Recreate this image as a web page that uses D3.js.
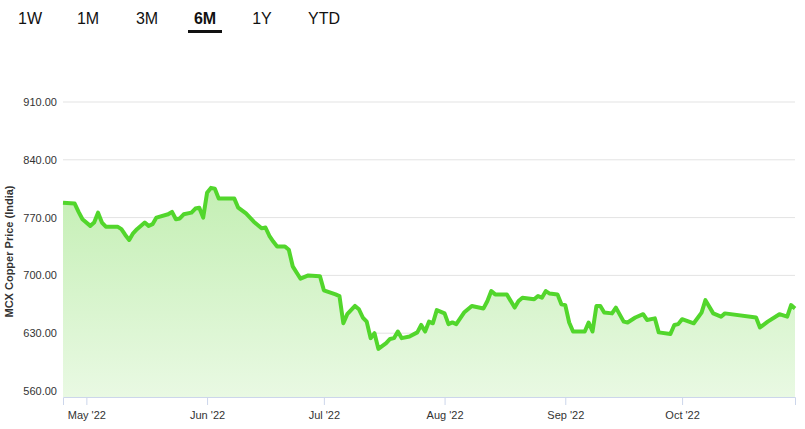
<!DOCTYPE html>
<html>
<head>
<meta charset="utf-8">
<script src="https://cdn.jsdelivr.net/npm/d3@7"></script>
<style>
  body { margin: 0; background: #fff; font-family: "Liberation Sans", Arial, sans-serif; }
</style>
</head>
<body>
<div id="chart"></div>
<script>
'use strict';

// Range selector tabs
const tabs = ['1W', '1M', '3M', '6M', '1Y', 'YTD'];
const activeTab = '6M';

// Day offsets from 1 May 2022 and MCX copper prices
const dayOffsets = [-6, -3, -2, -1, 1, 2, 3, 4, 5, 8, 9, 10, 11, 12, 13, 15, 16, 17, 18,
  21, 22, 23, 24, 25, 27, 28, 29, 30, 31, 32, 33, 34, 36, 38, 39, 41, 43, 45, 46, 47,
  48, 49, 51, 52, 53, 55, 57, 60, 61, 64, 65, 66, 67, 69, 70, 71, 72, 73, 74, 75, 77,
  78, 79, 80, 81, 83, 85, 86, 87, 88, 89, 90, 92, 93, 94, 95, 97, 99, 102, 103, 104,
  105, 108, 110, 111, 112, 115, 116, 117, 118, 119, 121, 122, 123, 124, 125, 128, 129,
  130, 131, 132, 133, 135, 136, 138, 139, 141, 143, 144, 146, 147, 150, 151, 152, 153,
  156, 158, 159, 161, 163, 164, 172, 173, 175, 178, 180, 181, 182];
const prices = [788, 787, 777, 768, 760, 764, 776, 764, 759, 759, 756, 749, 743, 751, 756,
  764, 760, 762, 770, 774, 777, 768, 769, 774, 776, 781, 782, 770, 800, 806, 805, 793,
  793, 793, 782, 775, 765, 757, 758, 748, 741, 735, 735, 731, 711, 696, 700, 699, 682,
  677, 675, 642, 653, 663, 659, 649, 644, 624, 630, 611, 618, 623, 624, 632, 624, 626,
  631, 640, 632, 644, 642, 658, 654, 641, 643, 641, 655, 663, 660, 669, 681, 677, 677,
  661, 669, 673, 671, 675, 673, 681, 678, 677, 665, 664, 643, 632, 632, 643, 632, 663,
  663, 655, 654, 661, 644, 643, 649, 653, 646, 648, 631, 629, 640, 641, 647, 642, 655,
  670, 654, 650, 654, 649, 637, 644, 653, 650, 664, 660];

const yTicks = [560, 630, 700, 770, 840, 910];
const xTickDates = [new Date(2022, 4, 1), new Date(2022, 5, 1), new Date(2022, 6, 1),
  new Date(2022, 7, 1), new Date(2022, 8, 1), new Date(2022, 9, 1)];
const yTitle = 'MCX Copper Price (India)';

const chartWidth = 805, chartHeight = 429;
const plotLeft = 63, plotRight = 795, plotTop = 102, plotBottom = 397;

const data = dayOffsets.map((d, i) => ({date: new Date(2022, 4, 1 + d), value: prices[i]}));

const svg = d3.select('#chart').append('svg')
  .attr('width', chartWidth).attr('height', chartHeight);

const x = d3.scaleTime()
  .domain([data[0].date, data[data.length - 1].date])
  .range([plotLeft, plotRight]);
const y = d3.scaleLinear().domain([560, 910]).range([391, plotTop]);

// Tabs
const tabX = [30, 88, 147, 205, 262, 324];
tabs.forEach((t, i) => {
  svg.append('text')
    .attr('x', tabX[i]).attr('y', 24)
    .attr('text-anchor', 'middle')
    .attr('font-size', '16px')
    .attr('font-weight', t === activeTab ? 'bold' : 'normal')
    .attr('fill', '#111')
    .text(t);
  if (t === activeTab) {
    svg.append('rect')
      .attr('x', tabX[i] - 17).attr('y', 30)
      .attr('width', 34).attr('height', 3)
      .attr('fill', '#111');
  }
});

// Gradient
const grad = svg.append('defs').append('linearGradient')
  .attr('id', 'fillGrad').attr('x1', 0).attr('y1', 0).attr('x2', 0).attr('y2', 1);
grad.append('stop').attr('offset', '0%').attr('stop-color', '#c4efb4');
grad.append('stop').attr('offset', '100%').attr('stop-color', '#e9f9e3');

// Grid lines
svg.append('g')
  .selectAll('line').data(yTicks).join('line')
  .attr('x1', plotLeft).attr('x2', plotRight)
  .attr('y1', d => y(d)).attr('y2', d => y(d))
  .attr('stroke', '#e3e3e3').attr('stroke-width', 1);

// Area + line
svg.append('path').datum(data)
  .attr('fill', 'url(#fillGrad)')
  .attr('d', d3.area().x(d => x(d.date)).y0(plotBottom).y1(d => y(d.value)));

svg.append('path').datum(data)
  .attr('fill', 'none')
  .attr('stroke', '#52d62c')
  .attr('stroke-width', 4)
  .attr('stroke-linejoin', 'round')
  .attr('d', d3.line().x(d => x(d.date)).y(d => y(d.value)));

// Y tick labels
svg.append('g')
  .selectAll('text').data(yTicks).join('text')
  .attr('x', plotLeft - 6).attr('y', d => y(d) + 4)
  .attr('text-anchor', 'end')
  .attr('font-size', '11px').attr('fill', '#333')
  .text(d => d.toFixed(2));

// Y title
svg.append('text')
  .attr('transform', `translate(13, ${(plotTop + 391) / 2 + 5}) rotate(-90)`)
  .attr('text-anchor', 'middle')
  .attr('font-size', '11px').attr('font-weight', 'bold').attr('fill', '#333')
  .text(yTitle);

// X axis
const xAxis = svg.append('g')
  .attr('transform', `translate(0, ${plotBottom})`)
  .call(d3.axisBottom(x).tickValues(xTickDates)
    .tickFormat(d3.timeFormat("%b '%y")).tickSize(8).tickPadding(6));
xAxis.select('.domain').attr('stroke', '#ccd6eb');
xAxis.selectAll('.tick line').attr('stroke', '#ccd6eb');
xAxis.selectAll('.tick text')
  .attr('font-size', '11px').attr('fill', '#333')
  .attr('font-family', '"Liberation Sans", Arial, sans-serif');
</script>
</body>
</html>
